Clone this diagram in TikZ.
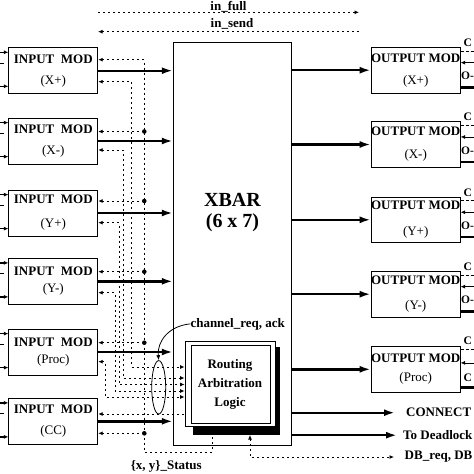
\documentclass[tikz,border=0pt]{standalone}
\usepackage{fontspec}
\setmainfont{Liberation Serif}
\usepackage{tikz}
\usetikzlibrary{arrows.meta, shapes.geometric}

\begin{document}
\begin{tikzpicture}[x=1pt, y=-1pt,
  every node/.style={font=\fontsize{13}{15}\selectfont},
  mod/.style={draw, line width=0.8pt, rectangle, minimum width=89pt, minimum height=46pt, inner sep=0pt, align=center},
  lbl/.style={font=\fontsize{13}{15}\selectfont\bfseries, inner sep=0pt},
  port/.style={font=\fontsize{11.5}{13}\selectfont\bfseries, inner sep=0pt},
  bus/.style={line width=2.4pt, -{Latex[length=11pt,width=7pt]}},
  sig/.style={line width=0.9pt, dash pattern=on 2pt off 3pt},
  >={Latex[length=4.5pt,width=4pt]}]
\useasboundingbox (0,0) rectangle (474,474);
\clip (0,0) rectangle (474,474);

\node[mod] (inXp) at (53.3,70.7) {\textbf{INPUT\ \ MOD}\\[6pt](X+)};
\node[mod] (inXm) at (53.3,141) {\textbf{INPUT\ \ MOD}\\[5.7pt](X-)};
\node[mod] (inYp) at (53.3,213) {\textbf{INPUT\ \ MOD}\\[9pt](Y+)};
\node[mod] (inYm) at (53.3,281.3) {\textbf{INPUT\ \ MOD}\\[1.7pt](Y-)};
\node[mod] (inProc) at (53.3,352) {\textbf{INPUT\ \ MOD}\\[2.7pt](Proc)};
\node[mod] (inCC) at (53.3,421.3) {\textbf{INPUT\ \ MOD}\\[5.7pt](CC)};

\node[mod, minimum height=45.5pt] (outXp) at (415.7,70.2) {\textbf{OUTPUT MOD}\\[7pt](X+)};
\node[mod, minimum height=45.5pt] (outXm) at (415.7,144.5) {\textbf{OUTPUT MOD}\\[8pt](X-)};
\node[mod, minimum height=45.5pt] (outYp) at (415.7,219.8) {\textbf{OUTPUT MOD}\\[11pt](Y+)};
\node[mod, minimum height=45.5pt] (outYm) at (415.7,294.2) {\textbf{OUTPUT MOD}\\[9.3pt](Y-)};
\node[mod, minimum height=46pt] (outProc) at (415.7,369.3) {\textbf{OUTPUT MOD}\\[4.3pt](Proc)};

\node[draw, line width=1pt, minimum width=118.4pt, minimum height=403.4pt] (xbar) at (232.5,244) {};
\node[font=\fontsize{20}{21.5}\selectfont\bfseries, align=center] (xbarlbl) at (232.5,212.4) {XBAR\\(6 x 7)};

% routing logic with its shadow
\fill (193,347) rectangle (280,435);
\node[draw, fill=white, line width=0.8pt, minimum width=90pt, minimum height=85pt, inner sep=0pt, align=center,
  font=\fontsize{13}{19.2}\selectfont\bfseries] (ral) at (230,384.2) {Routing\\Arbitration\\Logic};
\draw[line width=0.8pt] ([xshift=6.5pt,yshift=-4.5pt]ral.north west) rectangle ([xshift=-5pt,yshift=4pt]ral.south east);

\node[lbl, anchor=base] (full) at (228.5,10.5) {in\_full};
\node[lbl, anchor=base] (send) at (232,27.5) {in\_send};
\node[lbl, anchor=base] (chan) at (237.7,327) {channel\_req, ack};
\node[lbl, anchor=base] (status) at (166.3,469.5) {\{x, y\}\_Status};
\node[lbl, anchor=west] (conn) at (406,412.7) {CONNECT};
\node[lbl, anchor=west] (dead) at (403,435.2) {To Deadlock};
\node[lbl, anchor=west] (dbreq) at (404.5,457) {DB\_req, DB};
\node[ellipse, draw, line width=0.8pt, minimum width=14pt, minimum height=53.4pt, inner sep=0pt] (grp) at (158.7,387.3) {};

\coordinate (fullL) at (98,12.3);
\coordinate (fullR) at (359,12.3);
\coordinate (sendL) at (98,31.7);
\coordinate (sendR) at (362,31.7);
\coordinate (busB) at (144.3,452);
\coordinate (stat) at (212,435);
\coordinate (dbin) at (250,435);

% data paths
\draw[bus] (inXp) -- (inXp -| xbar.west);
\draw[bus] (inXm) -- (inXm -| xbar.west);
\draw[bus] (inYp) -- (inYp -| xbar.west);
\draw[bus] (inYm) -- (inYm -| xbar.west);
\draw[bus] (inProc) -- (inProc -| xbar.west);
\draw[bus] (inCC) -- (inCC -| xbar.west);

\draw[bus] (xbar.east |- outXp) -- (outXp);
\draw[bus] (xbar.east |- outXm) -- (outXm);
\draw[bus] (xbar.east |- outYp) -- (outYp);
\draw[bus] (xbar.east |- outYm) -- (outYm);
\draw[bus] (xbar.east |- outProc) -- (outProc);
\draw[bus] (xbar.east |- conn) -- ([xshift=-11pt]conn.west);
\draw[bus] (xbar.east |- dead) -- ([xshift=-6pt]dead.west);

% control signals
\draw[sig, ->] (fullL) -- (fullR);
\draw[sig, <-] (sendL) -- (sendR);
\draw[sig, <->] (dbin) |- ([xshift=-10.5pt]dbreq.west);

\draw[sig, <-] ([yshift=11pt]inXp.east) -| (busB) -| (stat);
\draw[sig, <-] ([yshift=9.5pt]inXm.east) -- ([yshift=9.5pt]inXm.east -| busB);
\draw[sig, <-] ([yshift=12pt]inYp.east) -- ([yshift=12pt]inYp.east -| busB);
\draw[sig, <-] ([yshift=9.6pt]inYm.east) -- ([yshift=9.6pt]inYm.east -| busB);
\draw[sig, <-] ([yshift=9.3pt]inProc.east) -- ([yshift=9.3pt]inProc.east -| busB);
\draw[sig, <-] ([yshift=-12pt]inCC.east) -- ([yshift=-12pt]inCC.east -| busB);
\fill ([yshift=9.5pt]inXm.east -| busB) circle[radius=2.3];
\fill ([yshift=12pt]inYp.east -| busB) circle[radius=2.3];
\fill ([yshift=9.6pt]inYm.east -| busB) circle[radius=2.3];
\fill ([yshift=9.3pt]inProc.east -| busB) circle[radius=2.3];
\fill ([yshift=-12pt]inCC.east -| busB) circle[radius=2.3];

\draw[sig, <->] ([yshift=-11pt]inXp.east) -| (131.7,367) -- (ral.west |- 0,367);
\draw[sig, <->] ([yshift=-9pt]inXm.east) -| (123.3,378) -- (ral.west |- 0,378);
\draw[sig, <->] ([yshift=-9.7pt]inYp.east) -| (119.3,384.5) -- (ral.west |- 0,384.5);
\draw[sig, <->] ([yshift=-11.4pt]inYm.east) -| (115,391) -- (ral.west |- 0,391);
\draw[sig, <->] ([yshift=-9.7pt]inProc.east) -| (105,397) -- (ral.west |- 0,397);
\draw[sig, <-] ([yshift=7.3pt]inCC.east) -- ([yshift=7.3pt]inCC.east -| ral.west);

\draw[line width=0.8pt, -{Latex[length=5pt,width=4pt]}] (chan.west) .. controls (168,326) and (157,342) .. (grp.north);

% ports on the left of the input modules
\draw[line width=1.2pt, ->] ([shift={(-9pt,-5pt)}]inXp.north west) -- ([yshift=-5pt]inXp.north west);
\draw[line width=0.6pt] ([shift={(-9pt,-15.6pt)}]inXp.north west) -- ([shift={(-4pt,-15.6pt)}]inXp.north west);
\draw[line width=1.2pt, ->] ([shift={(-9pt,-39pt)}]inXp.north west) -- ([yshift=-39pt]inXp.north west);
\draw[line width=1.2pt, ->] ([shift={(-9pt,-5pt)}]inXm.north west) -- ([yshift=-5pt]inXm.north west);
\draw[line width=0.6pt] ([shift={(-9pt,-15.6pt)}]inXm.north west) -- ([shift={(-4pt,-15.6pt)}]inXm.north west);
\draw[line width=1.2pt, ->] ([shift={(-9pt,-39pt)}]inXm.north west) -- ([yshift=-39pt]inXm.north west);
\draw[line width=1.2pt, ->] ([shift={(-9pt,-5pt)}]inYp.north west) -- ([yshift=-5pt]inYp.north west);
\draw[line width=0.6pt] ([shift={(-9pt,-15.6pt)}]inYp.north west) -- ([shift={(-4pt,-15.6pt)}]inYp.north west);
\draw[line width=1.2pt, ->] ([shift={(-9pt,-39pt)}]inYp.north west) -- ([yshift=-39pt]inYp.north west);
\draw[line width=1.2pt, ->] ([shift={(-9pt,-5pt)}]inYm.north west) -- ([yshift=-5pt]inYm.north west);
\draw[line width=0.6pt] ([shift={(-9pt,-15.6pt)}]inYm.north west) -- ([shift={(-4pt,-15.6pt)}]inYm.north west);
\draw[line width=1.2pt, ->] ([shift={(-9pt,-39pt)}]inYm.north west) -- ([yshift=-39pt]inYm.north west);
\draw[line width=1.2pt, ->] ([shift={(-9pt,-5pt)}]inProc.north west) -- ([yshift=-5pt]inProc.north west);
\draw[line width=0.6pt] ([shift={(-9pt,-15.6pt)}]inProc.north west) -- ([shift={(-4pt,-15.6pt)}]inProc.north west);
\draw[line width=1.2pt, ->] ([shift={(-9pt,-39pt)}]inProc.north west) -- ([yshift=-39pt]inProc.north west);
\draw[line width=1.2pt, ->] ([shift={(-9pt,-5pt)}]inCC.north west) -- ([yshift=-5pt]inCC.north west);
\draw[line width=0.6pt] ([shift={(-9pt,-15.6pt)}]inCC.north west) -- ([shift={(-4pt,-15.6pt)}]inCC.north west);
\draw[line width=1.2pt, ->] ([shift={(-9pt,-39pt)}]inCC.north west) -- ([yshift=-39pt]inCC.north west);

% ports on the right of the output modules
\node[port, anchor=west] (cXp) at (463.5,42.7) {C};
\node[port, anchor=west] (oXp) at (461,76) {O-};
\draw[line width=0.6pt, dash pattern=on 3pt off 2pt] ([yshift=-4pt]outXp.north east) -- +(14pt,0);
\draw[line width=0.6pt, <-] ([yshift=-15.6pt]outXp.north east) -- +(14pt,0);
\draw[line width=2.4pt] ([yshift=-40.6pt]outXp.north east) -- +(14pt,0);
\node[port, anchor=west] (cXm) at (463.5,116.7) {C};
\node[port, anchor=west] (oXm) at (461,151) {O-};
\draw[line width=0.6pt, dash pattern=on 3pt off 2pt] ([yshift=-4pt]outXm.north east) -- +(14pt,0);
\draw[line width=0.6pt, <-] ([yshift=-15.6pt]outXm.north east) -- +(14pt,0);
\draw[line width=2.4pt] ([yshift=-40.6pt]outXm.north east) -- +(14pt,0);
\node[port, anchor=west] (cYp) at (463.5,192.3) {C};
\node[port, anchor=west] (oYp) at (461,226) {O-};
\draw[line width=0.6pt, dash pattern=on 3pt off 2pt] ([yshift=-4pt]outYp.north east) -- +(14pt,0);
\draw[line width=0.6pt, <-] ([yshift=-15.6pt]outYp.north east) -- +(14pt,0);
\draw[line width=2.4pt] ([yshift=-40.6pt]outYp.north east) -- +(14pt,0);
\node[port, anchor=west] (cYm) at (463.5,266.7) {C};
\node[port, anchor=west] (oYm) at (461,300) {O-};
\draw[line width=0.6pt, dash pattern=on 3pt off 2pt] ([yshift=-4pt]outYm.north east) -- +(14pt,0);
\draw[line width=0.6pt, <-] ([yshift=-15.6pt]outYm.north east) -- +(14pt,0);
\draw[line width=2.4pt] ([yshift=-40.6pt]outYm.north east) -- +(14pt,0);
\node[port, anchor=west] (cProc) at (463.5,340.7) {C};
\node[port, anchor=west] (oProc) at (463.5,377.3) {C};
\draw[line width=0.6pt, dash pattern=on 3pt off 2pt] ([yshift=-3pt]outProc.north east) -- +(14pt,0);
\draw[line width=0.6pt, <-] ([yshift=-17pt]outProc.north east) -- +(14pt,0);
\draw[line width=2.4pt] ([yshift=-41.7pt]outProc.north east) -- +(14pt,0);

\end{tikzpicture}
\end{document}
